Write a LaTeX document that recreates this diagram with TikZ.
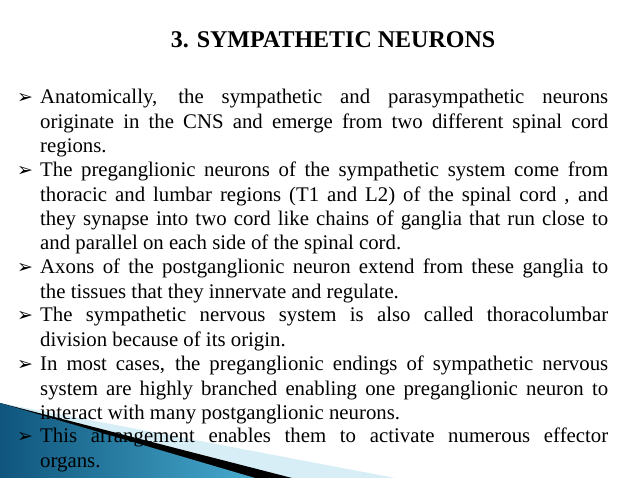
\documentclass[tikz,border=0pt]{standalone}
\usepackage{fontspec}
\setmainfont{Liberation Serif}
\newfontfamily\dejavu{DejaVu Sans}
\definecolor{tealdark}{RGB}{15,85,125}
\definecolor{teallight}{RGB}{70,170,205}
\definecolor{palecyan}{RGB}{215,238,246}
\begin{document}
\begin{tikzpicture}[x=1pt,y=-1pt,
  para/.style={anchor=base west,text width=568pt,align=justify,inner sep=0pt,font=\fontsize{20.8}{24.3}\selectfont},
  bul/.style={anchor=base west,inner sep=0pt,font=\dejavu\bfseries\fontsize{19}{20}\selectfont}]
\useasboundingbox (0,0) rectangle (638,478);
\fill[white] (0,0) rectangle (638,478);
\fill[palecyan] (0,403) -- (395,478) -- (0,478) -- cycle;
\fill[black] (0,403) -- (292,478) -- (0,478) -- cycle;
\shade[left color=tealdark, right color=teallight] (0,403) -- (255,478) -- (0,478) -- cycle;
\node[anchor=base,font=\bfseries\fontsize{24}{28}\selectfont,inner sep=0pt] (t) at (333,48) {3. SYMPATHETIC NEURONS};
\foreach \y/\n in {104/b1,177/b2,274/b3,322/b4,371/b5,443/b6}{\node[bul] (\n) at (17,\y) {➢};}
\node[para] (p1) at (40,104) {Anatomically, the sympathetic and parasympathetic neurons\linebreak originate in the CNS and emerge from two different spinal cord\linebreak regions.};
\node[para] (p2) at (40,177) {The preganglionic neurons of the sympathetic system come from\linebreak thoracic and lumbar regions (T1 and L2) of the spinal cord , and\linebreak they synapse into two cord like chains of ganglia that run close to\linebreak and parallel on each side of the spinal cord.};
\node[para] (p3) at (40,274) {Axons of the postganglionic neuron extend from these ganglia to\linebreak the tissues that they innervate and regulate.};
\node[para] (p4) at (40,322) {The sympathetic nervous system is also called thoracolumbar\linebreak division because of its origin.};
\node[para] (p5) at (40,371) {In most cases, the preganglionic endings of sympathetic nervous\linebreak system are highly branched enabling one preganglionic neuron to\linebreak interact with many postganglionic neurons.};
\node[para] (p6) at (40,443) {This arrangement enables them to activate numerous effector\linebreak organs.};
\end{tikzpicture}
\end{document}
